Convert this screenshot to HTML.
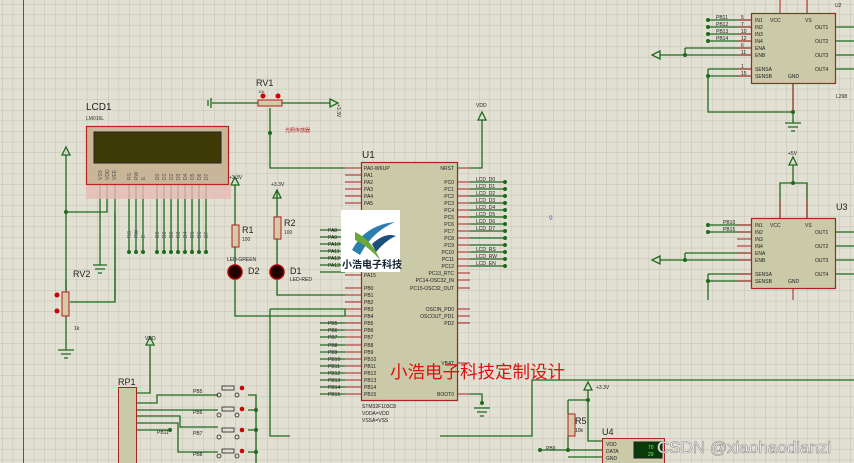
<!DOCTYPE html>
<html><head><meta charset="utf-8"><style>
html,body{margin:0;padding:0;background:#e2e0d3;}
svg{display:block}
text{font-family:"Liberation Sans","Noto Sans CJK SC",sans-serif;}
</style></head><body>
<svg width="854" height="463" viewBox="0 0 854 463" xmlns="http://www.w3.org/2000/svg">
<defs>
<pattern id="g" width="10.6" height="10.6" patternUnits="userSpaceOnUse" x="2" y="4">
<path d="M0 0H10.6M0 0V10.6" stroke="#c3c1b3" stroke-width="1" fill="none"/>
</pattern>
</defs>
<rect width="854" height="463" fill="#e2e0d3"/>
<rect width="854" height="463" fill="url(#g)"/>
<line x1="23.5" y1="0" x2="23.5" y2="463" stroke="#3a4bd8" stroke-width="1"/>

<g stroke="#1d6a1d" stroke-width="1.3" fill="none">
<path d="M212 103H258M282 103H330"/>
<path d="M211 98V108M208 100V106"/>
<path d="M270 108V168H345"/>
<path d="M470 168H482V120"/>
<path d="M100 185V252M107 185V212H66M115 185V300M129 185V252M136 185V252M143 185V252M157 185V252M164 185V252M171 185V252M178 185V252M185 185V252M192 185V252M199 185V252M206 185V252"/>
<path d="M66 155V298M100 252V265M93 265H107M95 269H105M98 273H102"/>
<path d="M66 280V290M66 316V350M58 350H74M61 354H71M64 358H68M70 302H115V212"/>
<path d="M235 185V225M235 247V265M235 280V316H345M277 190V217M277 238V265M277 280V295H345"/>
<path d="M270 309H345V316M270 309V436H290"/>
<path d="M320 230H345M320 237H345M320 244H345M320 251H345M320 258H345M320 265H345M320 272H345"/>
<path d="M320 323H345M320 330H345M320 337H345M320 345H345M320 352H345M320 359H345M320 366H345M320 373H345M320 380H345M320 387H345M320 394H345"/>
<path d="M470 182H505M470 189H505M470 196H505M470 203H505M470 210H505M470 217H505M470 224H505M470 231H505M470 238H505M470 245H505M470 252H505M470 259H505M470 266H505"/>
<path d="M470 394H482V403M474 408H490M477 412H487M480 416H484"/>
<path d="M440 436H532V380H854"/>
<path d="M588 390V400M568 400H588V441H602M568 400V414M568 436V450M540 450H602M568 457H602"/>
<path d="M136 393H150V345M136 403H157V395H218M136 410H218M136 416H180V427H218M136 423H178V452H218M136 430H170"/>
<path d="M248 395H256V463M248 410H256M248 430H256M248 452H256"/>
<path d="M708 20H751M708 27H751M708 34H751M708 41H751M685 48H751M685 55H751M685 48V55M660 55H685M708 69H751M708 76H751M708 69V112H793M793 84V123M785 123H801M788 127H798M791 131H795"/>
<path d="M836 27H854M836 41H854M836 55H854M836 69H854"/>
<path d="M780 218V183H807V218M793 183V165M708 225H751M708 232H751M685 253H751M685 260H751M685 253V260M660 260H685M708 274H751M708 281H751M708 274V300"/>
<path d="M836 232H854M836 246H854M836 260H854M836 274H854"/>
</g>
<g fill="none" stroke="#1d6a1d" stroke-width="1.3">
<path d="M62 155L66 147L70 155Z"/><path d="M478 120L482 112L486 120Z"/><path d="M231 185L235 177L239 185Z"/><path d="M273 198L277 190L281 198Z"/><path d="M146 345L150 337L154 345Z"/><path d="M330 99L338 103L330 107Z"/><path d="M584 390L588 382L592 390Z"/><path d="M660 51L652 55L660 59Z"/><path d="M660 256L652 260L660 264Z"/><path d="M789 165L793 157L797 165Z"/>
</g>
<g fill="#1d6a1d">
<circle cx="270" cy="133" r="2"/><circle cx="66" cy="212" r="2"/><circle cx="685" cy="55" r="2"/><circle cx="708" cy="76" r="2"/><circle cx="793" cy="112" r="2"/><circle cx="793" cy="183" r="2"/><circle cx="685" cy="260" r="2"/><circle cx="708" cy="281" r="2"/><circle cx="482" cy="403" r="2"/><circle cx="588" cy="400" r="2"/><circle cx="568" cy="450" r="2"/><circle cx="540" cy="450" r="2"/><circle cx="170" cy="430" r="2"/><circle cx="256" cy="410" r="2"/><circle cx="256" cy="430" r="2"/><circle cx="256" cy="452" r="2"/>
<circle cx="708" cy="20" r="2"/><circle cx="708" cy="27" r="2"/><circle cx="708" cy="34" r="2"/><circle cx="708" cy="41" r="2"/><circle cx="708" cy="225" r="2"/><circle cx="708" cy="232" r="2"/>
<circle cx="505" cy="182" r="2"/><circle cx="505" cy="189" r="2"/><circle cx="505" cy="196" r="2"/><circle cx="505" cy="203" r="2"/><circle cx="505" cy="210" r="2"/><circle cx="505" cy="217" r="2"/><circle cx="505" cy="224" r="2"/><circle cx="505" cy="231" r="2"/><circle cx="505" cy="238" r="2"/><circle cx="505" cy="245" r="2"/><circle cx="505" cy="252" r="2"/><circle cx="505" cy="259" r="2"/><circle cx="505" cy="266" r="2"/>
<circle cx="129" cy="252" r="2"/><circle cx="136" cy="252" r="2"/><circle cx="143" cy="252" r="2"/><circle cx="157" cy="252" r="2"/><circle cx="164" cy="252" r="2"/><circle cx="171" cy="252" r="2"/><circle cx="178" cy="252" r="2"/><circle cx="185" cy="252" r="2"/><circle cx="192" cy="252" r="2"/><circle cx="199" cy="252" r="2"/><circle cx="206" cy="252" r="2"/>
</g>

<rect x="86" y="185" width="145" height="14" fill="#e6bcb4" opacity="0.8"/>
<rect x="86.5" y="126.5" width="142" height="58" fill="#c9b597" stroke="#b22" stroke-width="1.2"/>
<rect x="94" y="132" width="127" height="31" fill="#3e3a06" stroke="#222"/>
<text x="86" y="110" font-size="10" fill="#222">LCD1</text>
<text x="86" y="120" font-size="5" fill="#333">LM016L</text>
<g font-size="5" fill="#555">
<text transform="translate(102,180) rotate(-90)">VSS</text><text transform="translate(109,180) rotate(-90)">VDD</text><text transform="translate(116,180) rotate(-90)">VEE</text>
<text transform="translate(131,180) rotate(-90)">RS</text><text transform="translate(138,180) rotate(-90)">RW</text><text transform="translate(145,180) rotate(-90)">E</text>
<text transform="translate(159,180) rotate(-90)">D0</text><text transform="translate(166,180) rotate(-90)">D1</text><text transform="translate(173,180) rotate(-90)">D2</text><text transform="translate(180,180) rotate(-90)">D3</text><text transform="translate(187,180) rotate(-90)">D4</text><text transform="translate(194,180) rotate(-90)">D5</text><text transform="translate(201,180) rotate(-90)">D6</text><text transform="translate(208,180) rotate(-90)">D7</text>
<text transform="translate(131,238) rotate(-90)">RS</text><text transform="translate(138,238) rotate(-90)">RW</text><text transform="translate(145,238) rotate(-90)">E</text>
<text transform="translate(159,238) rotate(-90)">D0</text><text transform="translate(166,238) rotate(-90)">D1</text><text transform="translate(173,238) rotate(-90)">D2</text><text transform="translate(180,238) rotate(-90)">D3</text><text transform="translate(187,238) rotate(-90)">D4</text><text transform="translate(194,238) rotate(-90)">D5</text><text transform="translate(201,238) rotate(-90)">D6</text><text transform="translate(208,238) rotate(-90)">D7</text>
</g>
<text x="229" y="179" font-size="5" fill="#222">+3.3V</text>

<text x="256" y="86" font-size="9" fill="#222">RV1</text>
<text x="258" y="93" font-size="4" fill="#333">10k</text>
<circle cx="263" cy="96" r="2.5" fill="#c00"/><circle cx="278" cy="96" r="2.5" fill="#c00"/>
<rect x="258" y="100" width="24" height="6" fill="#d8c8a8" stroke="#a22"/>
<text x="285" y="132" font-size="5" fill="#a22">光照传感器</text>
<text x="343" y="110" font-size="5" fill="#222" transform="rotate(90 343 104)">+3.3V</text>
<text x="476" y="107" font-size="5" fill="#222">VDD</text>

<rect x="232" y="225" width="7" height="22" fill="#d8c8a8" stroke="#a22"/>
<rect x="274" y="217" width="7" height="22" fill="#d8c8a8" stroke="#a22"/>
<text x="242" y="233" font-size="9" fill="#222">R1</text><text x="242" y="241" font-size="5" fill="#333">100</text>
<text x="284" y="226" font-size="9" fill="#222">R2</text><text x="284" y="234" font-size="5" fill="#333">100</text>
<text x="271" y="186" font-size="5" fill="#222">+3.3V</text>
<circle cx="235" cy="272" r="7" fill="#200" stroke="#a00" stroke-width="1.5"/>
<circle cx="277" cy="272" r="7" fill="#200" stroke="#a00" stroke-width="1.5"/>
<text x="248" y="274" font-size="9" fill="#222">D2</text><text x="290" y="274" font-size="9" fill="#222">D1</text>
<text x="227" y="261" font-size="5" fill="#222">LED-GREEN</text><text x="290" y="281" font-size="5" fill="#222">LED-RED</text>

<text x="73" y="277" font-size="9" fill="#222">RV2</text>
<circle cx="57" cy="295" r="2.5" fill="#c00"/><circle cx="57" cy="311" r="2.5" fill="#c00"/>
<rect x="62" y="292" width="7" height="24" fill="#d8c8a8" stroke="#a22"/>
<text x="74" y="330" font-size="5" fill="#222">1k</text>

<rect x="361.5" y="162.5" width="96" height="238" fill="#cac9a8" stroke="#a22" stroke-width="1.2"/>
<text x="362" y="158" font-size="10" fill="#222">U1</text>
<text x="362" y="408" font-size="5" fill="#222">STM32F103C8</text>
<text x="362" y="415" font-size="5" fill="#222">VDDA=VDD</text>
<text x="362" y="422" font-size="5" fill="#222">VSSA=VSS</text>
<g stroke="#a22" stroke-width="1">
<path d="M345 168H361M345 175H361M345 182H361M345 189H361M345 196H361M345 203H361M345 275H361M345 288H361M345 295H361M345 302H361M345 309H361M345 316H361M345 323H361M345 330H361M345 337H361M345 345H361M345 352H361M345 359H361M345 366H361M345 373H361M345 380H361M345 387H361M345 394H361"/>
<path d="M457 168H470M457 182H470M457 189H470M457 196H470M457 203H470M457 210H470M457 217H470M457 224H470M457 231H470M457 238H470M457 245H470M457 252H470M457 259H470M457 266H470M457 273H470M457 280H470M457 288H470M457 309H470M457 316H470M457 323H470M457 363H470M457 394H470"/>
</g>
<g font-size="5" fill="#222">
<text x="364" y="170">PA0-WKUP</text><text x="364" y="177">PA1</text><text x="364" y="184">PA2</text><text x="364" y="191">PA3</text><text x="364" y="198">PA4</text><text x="364" y="205">PA5</text>
<text x="364" y="277">PA15</text><text x="364" y="290">PB0</text><text x="364" y="297">PB1</text><text x="364" y="304">PB2</text><text x="364" y="311">PB3</text><text x="364" y="318">PB4</text><text x="364" y="325">PB5</text><text x="364" y="332">PB6</text><text x="364" y="339">PB7</text><text x="364" y="347">PB8</text><text x="364" y="354">PB9</text><text x="364" y="361">PB10</text><text x="364" y="368">PB11</text><text x="364" y="375">PB12</text><text x="364" y="382">PB13</text><text x="364" y="389">PB14</text><text x="364" y="396">PB15</text>
<text x="454" y="170" text-anchor="end">NRST</text><text x="454" y="184" text-anchor="end">PC0</text><text x="454" y="191" text-anchor="end">PC1</text><text x="454" y="198" text-anchor="end">PC2</text><text x="454" y="205" text-anchor="end">PC3</text><text x="454" y="212" text-anchor="end">PC4</text><text x="454" y="219" text-anchor="end">PC5</text><text x="454" y="226" text-anchor="end">PC6</text><text x="454" y="233" text-anchor="end">PC7</text><text x="454" y="240" text-anchor="end">PC8</text><text x="454" y="247" text-anchor="end">PC9</text><text x="454" y="254" text-anchor="end">PC10</text><text x="454" y="261" text-anchor="end">PC11</text><text x="454" y="268" text-anchor="end">PC12</text><text x="454" y="275" text-anchor="end">PC13_RTC</text><text x="454" y="282" text-anchor="end">PC14-OSC32_IN</text><text x="454" y="290" text-anchor="end">PC15-OSC32_OUT</text><text x="454" y="311" text-anchor="end">OSCIN_PD0</text><text x="454" y="318" text-anchor="end">OSCOUT_PD1</text><text x="454" y="325" text-anchor="end">PD2</text><text x="454" y="365" text-anchor="end">VBAT</text><text x="454" y="396" text-anchor="end">BOOT0</text>
<text x="476" y="181">LCD_D0</text><text x="476" y="188">LCD_D1</text><text x="476" y="195">LCD_D2</text><text x="476" y="202">LCD_D3</text><text x="476" y="209">LCD_D4</text><text x="476" y="216">LCD_D5</text><text x="476" y="223">LCD_D6</text><text x="476" y="230">LCD_D7</text><text x="476" y="251">LCD_RS</text><text x="476" y="258">LCD_RW</text><text x="476" y="265">LCD_EN</text>
<text x="328" y="232">PA8</text><text x="328" y="239">PA9</text><text x="328" y="246">PA10</text><text x="328" y="253">PA11</text><text x="328" y="260">PA12</text><text x="328" y="267">PA13</text>
<text x="328" y="325">PB5</text><text x="328" y="332">PB6</text><text x="328" y="339">PB7</text><text x="328" y="347">PB8</text><text x="328" y="354">PB9</text><text x="328" y="361">PB10</text><text x="328" y="368">PB11</text><text x="328" y="375">PB12</text><text x="328" y="382">PB13</text><text x="328" y="389">PB14</text><text x="328" y="396">PB15</text>
</g>
<rect x="341" y="210" width="59" height="62" fill="#fff"/>
<path d="M352 250Q365 225 395 222Q372 232 360 255Z" fill="#2a7fb0"/>
<path d="M355 232Q372 240 380 260Q368 246 355 240Z" fill="#6aa83a"/>
<path d="M372 244Q385 232 396 236Q386 240 376 252Z" fill="#1c4f7a"/>
<text x="342" y="268" font-size="10" font-weight="bold" fill="#123">小浩电子科技</text>

<text x="390" y="378" font-size="17.5" fill="#e01010" font-family="Liberation Serif,'Noto Serif CJK SC',serif">小浩电子科技定制设计</text>
<text x="549" y="220" font-size="7" fill="#33c">◊</text>

<rect x="751.5" y="13.5" width="84" height="70" fill="#cac9a8" stroke="#a22" stroke-width="1.2"/>
<g stroke="#a22"><path d="M737 20H751M737 27H751M737 34H751M737 41H751M737 48H751M737 55H751M737 69H751M737 76H751M780 0V13M807 0V13M793 84V112"/></g>
<g font-size="5" fill="#222">
<text x="835" y="7">U2</text><text x="755" y="22">IN1</text><text x="770" y="22">VCC</text><text x="805" y="22">VS</text><text x="755" y="29">IN2</text><text x="755" y="36">IN3</text><text x="755" y="43">IN4</text><text x="755" y="50">ENA</text><text x="755" y="57">ENB</text><text x="755" y="71">SENSA</text><text x="755" y="78">SENSB</text><text x="788" y="78">GND</text>
<text x="815" y="29">OUT1</text><text x="815" y="43">OUT2</text><text x="815" y="57">OUT3</text><text x="815" y="71">OUT4</text><text x="836" y="98">L298</text>
<text x="716" y="19">PB11</text><text x="716" y="26">PB12</text><text x="716" y="33">PB13</text><text x="716" y="40">PB14</text>
<text x="741" y="19">5</text><text x="741" y="26">7</text><text x="741" y="33">10</text><text x="741" y="40">12</text><text x="741" y="47">6</text><text x="741" y="54">11</text><text x="741" y="68">1</text><text x="741" y="75">15</text>
</g>
<rect x="751.5" y="218.5" width="84" height="70" fill="#cac9a8" stroke="#a22" stroke-width="1.2"/>
<g stroke="#a22"><path d="M737 225H751M737 232H751M737 239H751M737 246H751M737 253H751M737 260H751M737 274H751M737 281H751M780 200V218M807 200V218M793 289V300"/></g>
<g font-size="5" fill="#222">
<text x="836" y="210" font-size="9">U3</text><text x="788" y="155">+5V</text><text x="755" y="227">IN1</text><text x="770" y="227">VCC</text><text x="805" y="227">VS</text><text x="755" y="234">IN2</text><text x="755" y="241">IN3</text><text x="755" y="248">IN4</text><text x="755" y="255">ENA</text><text x="755" y="262">ENB</text><text x="755" y="276">SENSA</text><text x="755" y="283">SENSB</text><text x="788" y="283">GND</text>
<text x="815" y="234">OUT1</text><text x="815" y="248">OUT2</text><text x="815" y="262">OUT3</text><text x="815" y="276">OUT4</text>
<text x="723" y="224">PB10</text><text x="723" y="231">PB15</text>
</g>
<rect x="118.5" y="387.5" width="18" height="76" fill="#cac9a8" stroke="#a22"/>
<text x="118" y="385" font-size="9" fill="#222">RP1</text>
<text x="145" y="340" font-size="5" fill="#222">VDD</text>
<g font-size="5" fill="#222"><text x="193" y="393">PB5</text><text x="193" y="414">PB6</text><text x="193" y="435">PB7</text><text x="157" y="434">PB11</text><text x="193" y="456">PB8</text></g>
<g fill="none" stroke="#222" stroke-width="0.8">
<rect x="222" y="386" width="12" height="4"/><rect x="222" y="407" width="12" height="4"/><rect x="222" y="428" width="12" height="4"/><rect x="222" y="449" width="12" height="4"/>
<circle cx="219" cy="395" r="2"/><circle cx="237" cy="395" r="2"/><circle cx="219" cy="415" r="2"/><circle cx="237" cy="415" r="2"/><circle cx="219" cy="437" r="2"/><circle cx="237" cy="437" r="2"/><circle cx="219" cy="456" r="2"/><circle cx="237" cy="456" r="2"/>
</g>
<g fill="#c00"><circle cx="242" cy="388" r="2.3"/><circle cx="242" cy="409" r="2.3"/><circle cx="242" cy="430" r="2.3"/><circle cx="242" cy="451" r="2.3"/></g>
<rect x="568" y="414" width="7" height="22" fill="#d8c8a8" stroke="#a22"/>
<text x="575" y="424" font-size="9" fill="#222">R5</text><text x="575" y="432" font-size="5" fill="#222">10k</text>
<text x="596" y="389" font-size="5" fill="#222">+3.3V</text>
<text x="546" y="450" font-size="5" fill="#222">PB9</text>
<text x="602" y="435" font-size="9" fill="#222">U4</text>
<rect x="602.5" y="438.5" width="62" height="26" fill="#cac9a8" stroke="#a22"/>
<g font-size="5" fill="#222"><text x="606" y="446">VDD</text><text x="606" y="453">DATA</text><text x="606" y="460">GND</text></g>
<rect x="634" y="442" width="28" height="16" fill="#0a3a0a" stroke="#222"/>
<text x="648" y="449" font-size="5" fill="#6f6">70</text><text x="648" y="456" font-size="5" fill="#6f6">29</text>
<text x="657" y="453" font-size="17" fill="#fff" stroke="#888" stroke-width="0.6">CSDN @xiaohaodianzi</text>
</svg>
</body></html>
